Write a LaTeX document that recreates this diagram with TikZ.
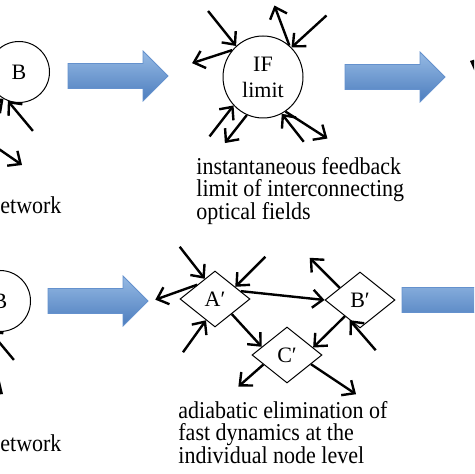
\documentclass[tikz,border=0pt]{standalone}
\usepackage{fontspec}
\setmainfont{Liberation Serif}
\usetikzlibrary{shapes.geometric,arrows.meta}

\definecolor{shaftlight}{RGB}{150,186,228}
\definecolor{shaftdark}{RGB}{76,125,190}
\definecolor{shaftedge}{RGB}{100,145,205}

\tikzset{
  feedout/.style={-{Straight Barb[length=5pt,width=9pt]},line width=1.2pt},
  feedin/.style={{Straight Barb[length=5pt,width=9pt]}-,line width=1.2pt},
  blob/.style={draw,circle,minimum size=30.5pt,inner sep=0pt,line width=0.5pt,font=\fontsize{11}{13}\selectfont},
  rhomb/.style={draw,diamond,aspect=1.25,minimum width=35pt,minimum height=28pt,inner sep=0pt,line width=0.5pt,font=\fontsize{11}{13}\selectfont},
  caption/.style={anchor=north west,align=left,inner sep=0pt,yscale=1.1,font=\fontsize{11}{10.2}\selectfont}
}

\begin{document}
\begin{tikzpicture}[x=0.5pt,y=-0.5pt]
\useasboundingbox (0,0) rectangle (474,474);
\clip (0,0) rectangle (474,474);

% block arrows between the panels
\foreach \x/\y in {68/76, 345/77, 48/301, 402/300}{
  \shade[top color=shaftlight,bottom color=shaftdark,draw=shaftedge,line width=0.4pt]
    (\x,\y-12.5) -- (\x+75,\y-12.5) -- (\x+75,\y-25) -- (\x+100,\y) -- (\x+75,\y+25)
    -- (\x+75,\y+12.5) -- (\x,\y+12.5) -- cycle;
}

% network panel (cut at the left)
\node[blob] (Btop) at (19,72) {B};
\node[blob] (Bbot) at (0,301) {B};
\node[caption] (nettop) at (0,196) {etwork};
\node[caption] (netbot) at (0,434) {etwork};

% instantaneous feedback panel
\node[blob,ellipse,minimum width=40pt,minimum height=41pt,align=center] (IF) at (263,77) {IF\\limit};
\node[caption] (capIF) at (196,157) {instantaneous feedback\\limit of interconnecting\\optical fields};

% adiabatic elimination panel
\node[rhomb] (A) at (215,299) {A′};
\node[rhomb] (B) at (360,300) {B′};
\node[rhomb] (C) at (287,355) {C′};
\node[caption] (capAE) at (178,401) {adiabatic elimination of\\fast dynamics at the\\individual node level};

% loose links of the network panel
\coordinate (l1) at (-20,136);
\coordinate (l1end) at (22,165);
\coordinate (l2) at (-39,365);
\coordinate (l2end) at (3,394);
\coordinate (r1) at (495,72);
\coordinate (r1end) at (470,61);
\draw[feedin] (Btop.249) -- ++(25,30);
\draw[feedin] (Btop.240) -- ++(-25,20);
\draw[feedout] (l1) -- (l1end);
\draw[feedin] (Bbot.249) -- ++(25,30);
\draw[feedin] (Bbot.240) -- ++(-25,20);
\draw[feedout] (l2) -- (l2end);
\draw[feedout] (r1) -- (r1end);

% links round the IF node
\draw[feedin] (IF.131) -- ++(-28,-35);
\draw[feedout] (IF.139) -- ++(-40,13);
\draw[feedout] (IF.50) -- ++(-15,-40);
\draw[feedin] (IF.46) -- ++(35,-32);
\draw[feedin] (IF.224) -- ++(-24,31);
\draw[feedout] (IF.247) -- ++(-22,28);
\draw[feedin] (IF.297) -- ++(22,28);
\draw[feedout] (IF.303) -- ++(42,27);

% links round the diamonds
\draw[feedin] (A.117) -- ++(-25,-32);
\draw[feedin] (A.31) -- ++(30,-30);
\draw[feedout] (A.141) -- ++(-42,15);
\draw[feedin] (A.247) -- ++(-23,32);
\draw[feedout] (A.17) -- (B.west);
\draw[feedout] (A.318) -- (C.162);
\draw[feedout] (B.227) -- (C.16);
\draw[feedout] (B.149) -- ++(-30,-30);
\draw[feedin] (B.243) -- ++(26,30);
\draw[feedout] (C.202) -- ++(-25,22);
\draw[feedout] (C.339) -- ++(45,30);
\end{tikzpicture}
\end{document}
